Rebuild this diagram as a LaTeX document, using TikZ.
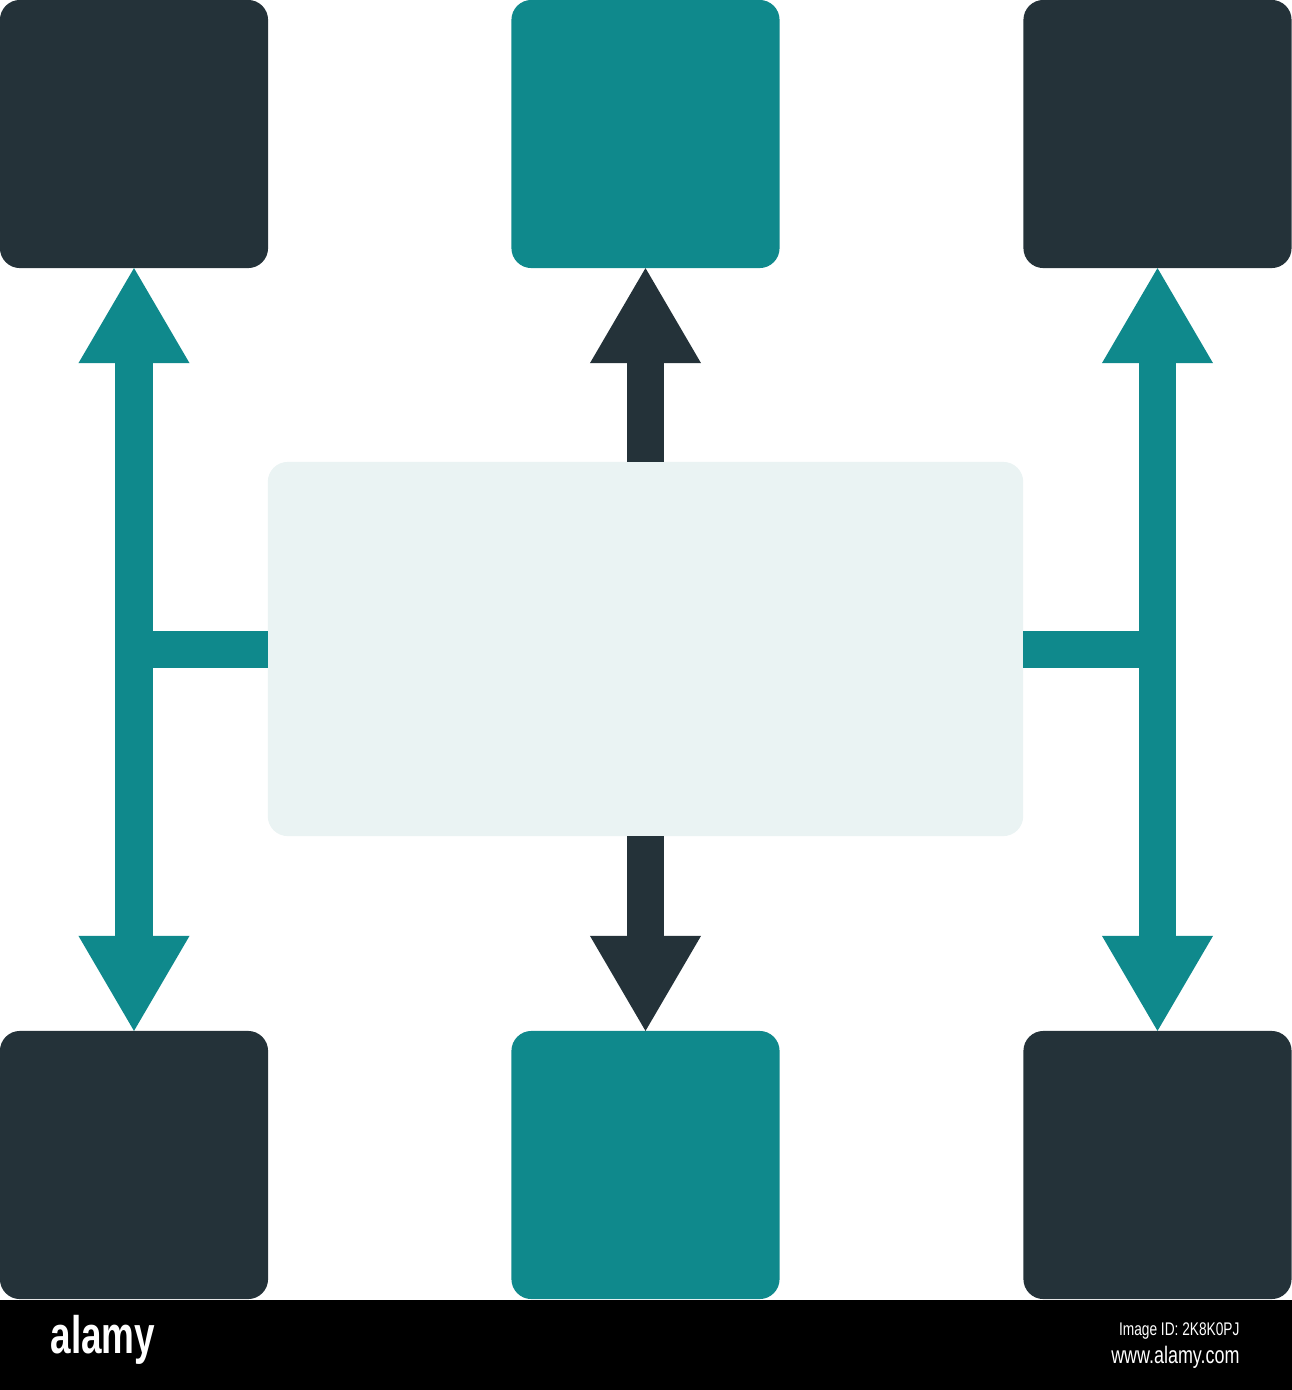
\documentclass[tikz,border=0pt]{standalone}
\usepackage{fontspec}
\setmainfont{Liberation Sans}
\usetikzlibrary{arrows.meta,positioning}
\definecolor{slate}{HTML}{243239}
\definecolor{sea}{HTML}{0F898C}
\definecolor{mist}{HTML}{EAF3F3}
\tikzset{
  tile/.style={rectangle,rounded corners=0.2cm,minimum width=2.68cm,minimum height=2.68cm,inner sep=0pt,outer sep=0pt},
  darktile/.style={tile,fill=slate},
  seatile/.style={tile,fill=sea},
  hub/.style={rectangle,rounded corners=0.2cm,fill=mist,minimum width=7.55cm,minimum height=3.74cm,inner sep=0pt,outer sep=0pt},
  bigtip/.tip={Triangle[length=0.95cm,width=1.11cm,line width=0pt]},
}
\begin{document}
\begin{tikzpicture}[x=0.01cm,y=-0.01cm]
\useasboundingbox (0,0) rectangle (1292,1390);
% \draw[help lines,step=100] (0,0) grid (1292,1390);
\node (tl) [darktile] at (134,134) {};
\node (tm) [seatile] at (645.5,134) {};
\node (tr) [darktile] at (1157.5,134) {};
\node (hub) [hub] at (645.5,649) {};
\node (bl) [darktile] at (134,1165) {};
\node (bm) [seatile] at (645.5,1165) {};
\node (br) [darktile] at (1157.5,1165) {};
%
\path[-bigtip,draw,color=slate,line width=0.37cm](hub) edge (tm);
\path[-bigtip,draw,color=slate,line width=0.37cm](hub) edge (bm);
\path[bigtip-bigtip,draw,color=sea,line width=0.37cm](tl) edge (bl);
\path[bigtip-bigtip,draw,color=sea,line width=0.37cm](tr) edge (br);
\draw[sea,line width=0.37cm](hub.west) -- (hub.west -| tl.south);
\draw[sea,line width=0.37cm](hub.east) -- (hub.east -| tr.north);
%
\fill[black] (0,1300) rectangle (1292,1390);
\node (logo) [white,font=\bfseries\fontsize{15}{15}\selectfont,xscale=0.7,anchor=west,inner sep=0pt] at (50,1340) {alamy};
\node (imgid) [white,font=\fontsize{5.2}{5.2}\selectfont,xscale=0.75,anchor=east,inner sep=0pt] at (1240,1331) {Image ID: 2K8K0PJ};
\node (site) [white,font=\fontsize{6.8}{6.8}\selectfont,xscale=0.75,anchor=east,inner sep=0pt] at (1240,1357) {www.alamy.com};
\end{tikzpicture}
\end{document}
